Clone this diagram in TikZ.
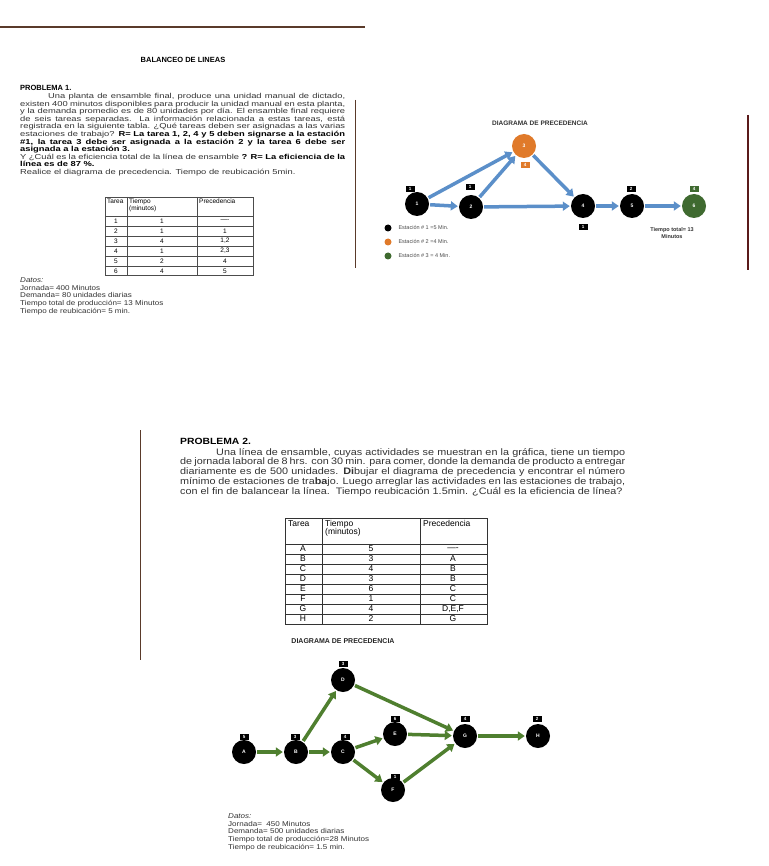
\documentclass[tikz,border=0pt]{standalone}
\usepackage{fontspec}
\setmainfont{Liberation Sans}
\newfontfamily\wide[FakeStretch=1.15]{Liberation Sans}
\newfontfamily\wider[FakeStretch=1.3]{Liberation Sans}
\usetikzlibrary{arrows.meta}
\lefthyphenmin=64
\definecolor{brn}{HTML}{5A3A2A}
\definecolor{dred}{HTML}{5A1A1A}
\definecolor{blu}{HTML}{5B8FC9}
\definecolor{grn}{HTML}{4F7F2F}
\definecolor{org}{HTML}{E07A2A}
\definecolor{dgrn}{HTML}{3F6A30}
\tikzset{
 nd/.style={circle,fill=black,minimum size=24pt,inner sep=0pt,text=white,font=\fontsize{5}{5}\selectfont\bfseries},
 lbl/.style={fill=black,minimum width=9pt,minimum height=6pt,inner sep=0pt,text=white,font=\fontsize{4.5}{4.5}\selectfont\bfseries},
 txt/.style={anchor=north west,inner sep=0pt,font=\wide\fontsize{7.4}{7.6}\selectfont,text=black!80},
 barrow/.style={draw=blu,line width=3.5pt,-{Triangle[length=7pt,width=9pt]},shorten >=1pt,shorten <=1pt},
 garrow/.style={draw=grn,line width=3.5pt,-{Triangle[length=7pt,width=9pt]},shorten >=1pt,shorten <=1pt},
 cell/.style={font=\fontsize{6.5}{6.5}\selectfont,inner sep=0pt},
 cellb/.style={font=\fontsize{8.5}{8.5}\selectfont,inner sep=0pt},
 leg/.style={anchor=west,font=\fontsize{5.5}{6}\selectfont,text=black!70}
}
\begin{document}
\begin{tikzpicture}[x=1pt,y=-1pt]
\useasboundingbox (0,0) rectangle (768,866);
\fill[white] (0,0) rectangle (768,866);
\draw[brn,line width=1.5pt] (0,27) -- (365,27);
\node[font=\fontsize{7.5}{8}\selectfont\bfseries] (t1) at (183,60) {BALANCEO DE LINEAS};
\node[txt,font=\fontsize{7.5}{8}\selectfont\bfseries,text=black] (p1) at (20,85) {PROBLEMA 1.};
\node[txt,text width=325pt,align=justify,font=\wider\fontsize{7.2}{7.6}\selectfont] (par1) at (20,93) {\lefthyphenmin=64\relax\emergencystretch=20pt\relax\hspace*{28pt}Una planta de ensamble final, produce una unidad manual de dictado, existen 400 minutos disponibles para producir la unidad manual en esta planta, y la demanda promedio es de 80 unidades por día. El ensamble final requiere de seis tareas separadas. La información relacionada a estas tareas, está registrada en la siguiente tabla. ¿Qué tareas deben ser asignadas a las varias estaciones de trabajo? {\bfseries\color{black}R= La tarea 1, 2, 4 y 5 deben signarse a la estación \#1, la tarea 3 debe ser asignada a la estación 2 y la tarea 6 debe ser asignada a la estación 3.}\\
Y ¿Cuál es la eficiencia total de la línea de ensamble {\bfseries\color{black}? R= La eficiencia de la línea es de 87 \%.}\\
Realice el diagrama de precedencia. Tiempo de reubicación 5min.};
\draw[brn,line width=1pt] (355,100) -- (355,268);
% table 1
\draw[black!70,line width=0.5pt] (105,197) rectangle (253,275);
\foreach \x in {127,197} \draw[black!70,line width=0.5pt] (\x,197) -- (\x,275);
\foreach \y in {216,226,236,246,256,266} \draw[black!70,line width=0.5pt] (105,\y) -- (253,\y);
\node[cell,anchor=north west] (h1) at (107,199) {Tarea};
\node[cell,anchor=north west,align=left] (h2) at (129,199) {Tiempo\\(minutos)};
\node[cell,anchor=north west] (h3) at (199,199) {Precedencia};
\foreach \a/\b/\c [count=\i] in {1/1/----,2/1/1,3/4/{1,2},4/1/{2,3},5/2/4,6/4/5}{
 \node[cell] at (116,211+\i*10) {\a};
 \node[cell] at (162,211+\i*10) {\b};
 \node[cell] at (225,211+\i*10) {\c};}
\node[txt,font=\wide\fontsize{7}{7.7}\selectfont\itshape] (d1) at (20,277) {Datos:};
\node[txt,align=left,font=\wide\fontsize{7}{7.7}\selectfont] (d1b) at (20,285) {Jornada= 400 Minutos\\Demanda= 80 unidades diarias\\Tiempo total de producción= 13 Minutos\\Tiempo de reubicación= 5 min.};
% diagram 1
\node[font=\fontsize{6.5}{7}\selectfont\bfseries,text=black!80] (dt1) at (540,123) {DIAGRAMA DE PRECEDENCIA};
\node[nd] (n1) at (417,204) {1};
\node[nd] (n2) at (471,207) {2};
\node[nd,fill=org] (n3) at (524,146) {3};
\node[nd] (n4) at (583,206) {4};
\node[nd] (n5) at (632,206) {5};
\node[nd,fill=dgrn] (n6) at (694,206) {6};
\node[lbl] (l1) at (410,189) {1};
\node[lbl] (l2) at (470,187) {1};
\node[lbl,fill=org] (l3) at (525,165) {4};
\node[lbl] (l4) at (583,227) {1};
\node[lbl] (l5) at (631,189) {2};
\node[lbl,fill=dgrn] (l6) at (694,189) {4};
\draw[barrow] (n1) -- (n3);
\draw[barrow] (n2) -- (n3);
\draw[barrow] (n1) -- (n2);
\draw[barrow] (n2) -- (n4);
\draw[barrow] (n3) -- (n4);
\draw[barrow] (n4) -- (n5);
\draw[barrow] (n5) -- (n6);
\node[circle,fill=black,minimum size=7pt,inner sep=0pt] (k1) at (388,228) {};
\node[circle,fill=org,minimum size=7pt,inner sep=0pt] (k2) at (388,242) {};
\node[circle,fill=dgrn,minimum size=7pt,inner sep=0pt] (k3) at (388,256) {};
\node[leg] at (395,228) {Estación \# 1 =5 Min.};
\node[leg] at (395,242) {Estación \# 2 =4 Min.};
\node[leg] at (395,256) {Estación \# 3 = 4 Min.};
\node[align=center,font=\fontsize{5.5}{6.5}\selectfont\bfseries,text=black!80] (tt) at (672,233) {Tiempo total= 13\\Minutos};
\draw[dred,line width=2.5pt] (748,115) -- (748,270);
% problem 2
\draw[brn,line width=1pt] (140,430) -- (140,660);
\node[txt,font=\wide\fontsize{9}{9}\selectfont\bfseries,text=black] (p2) at (180,438) {PROBLEMA 2.};
\node[txt,text width=445pt,align=justify,font=\wide\fontsize{9.4}{8.3}\selectfont] (par2) at (180,448) {\lefthyphenmin=64\relax\emergencystretch=20pt\relax\hspace*{36pt}Una línea de ensamble, cuyas actividades se muestran en la gráfica, tiene un tiempo de jornada laboral de 8 hrs. con 30 min. para comer, donde la demanda de producto a entregar diariamente es de 500 unidades. {\bfseries Di}bujar el diagrama de precedencia y encontrar el número mínimo de estaciones de tra{\bfseries ba}jo. Luego arreglar las actividades en las estaciones de trabajo, con el fin de balancear la línea.\ \ Tiempo reubicación 1.5min. ¿Cuál es la eficiencia de línea?};
% table 2
\draw[black!80,line width=0.6pt] (285,518) rectangle (487,624);
\foreach \x in {322,420} \draw[black!80,line width=0.6pt] (\x,518) -- (\x,624);
\foreach \y in {544,554,564,574,584,594,604,614} \draw[black!80,line width=0.6pt] (285,\y) -- (487,\y);
\node[cellb,anchor=north west] at (288,520) {Tarea};
\node[cellb,anchor=north west,align=left] at (325,520) {Tiempo\\(minutos)};
\node[cellb,anchor=north west] at (423,520) {Precedencia};
\foreach \a/\b/\c [count=\i] in {A/5/----,B/3/A,C/4/B,D/3/B,E/6/C,F/1/C,G/4/{D,E,F},H/2/G}{
 \node[cellb] at (303,539+\i*10) {\a};
 \node[cellb] at (371,539+\i*10) {\b};
 \node[cellb] at (453,539+\i*10) {\c};}
\node[font=\fontsize{7}{7}\selectfont\bfseries,text=black!85] (dt2) at (343,641) {DIAGRAMA DE PRECEDENCIA};
\node[nd] (A) at (244,752) {A};
\node[nd] (B) at (296,752) {B};
\node[nd] (C) at (343,752) {C};
\node[nd] (D) at (343,680) {D};
\node[nd] (E) at (395,734) {E};
\node[nd] (F) at (393,790) {F};
\node[nd] (G) at (465,736) {G};
\node[nd] (H) at (538,736) {H};
\node[lbl] at (244,737) {5};
\node[lbl] at (295,737) {3};
\node[lbl] at (345,737) {4};
\node[lbl] at (343,664) {3};
\node[lbl] at (395,719) {6};
\node[lbl] at (395,777) {1};
\node[lbl] at (465,719) {4};
\node[lbl] at (537,719) {2};
\draw[garrow] (A) -- (B);
\draw[garrow] (B) -- (C);
\draw[garrow] (B) -- (D);
\draw[garrow] (C) -- (E);
\draw[garrow] (C) -- (F);
\draw[garrow] (D) -- (G);
\draw[garrow] (E) -- (G);
\draw[garrow] (F) -- (G);
\draw[garrow] (G) -- (H);
\node[txt,font=\wide\fontsize{7}{7.7}\selectfont\itshape] (d2) at (228,813) {Datos:};
\node[txt,align=left,font=\wide\fontsize{7}{7.7}\selectfont] (d2b) at (228,821) {Jornada=\ \ 450 Minutos\\Demanda= 500 unidades diarias\\Tiempo total de producción=28 Minutos\\Tiempo de reubicación= 1.5 min.};
\end{tikzpicture}
\end{document}
